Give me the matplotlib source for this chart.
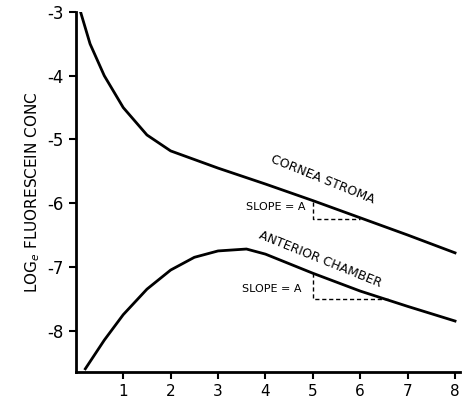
# Courbes de concentration de fluorescéine (cornée / chambre antérieure)
import matplotlib.pyplot as plt

# valeurs
cornee_x = [0.1, 0.3, 0.6, 1.0, 1.5, 2.0, 3.0, 4.0, 5.0, 6.0, 7.0, 8.0]
cornee_y = [-3.0, -3.5, -4.0, -4.5, -4.93, -5.18, -5.45, -5.7, -5.96, -6.23, -6.5, -6.78]

chambre_x = [0.2, 0.6, 1.0, 1.5, 2.0, 2.5, 3.0, 3.6, 4.0, 5.0, 6.0, 7.0, 8.0]
chambre_y = [-8.6, -8.15, -7.75, -7.35, -7.05, -6.85, -6.75, -6.72, -6.8, -7.1, -7.38, -7.62, -7.85]

xticks = [1, 2, 3, 4, 5, 6, 7, 8]
yticks = [-3, -4, -5, -6, -7, -8]

fig = plt.figure(figsize=(4.74, 4.0), dpi=100)
ax = fig.add_axes([0.16, 0.07, 0.81, 0.90])

ax.plot(cornee_x, cornee_y, color="black", lw=2)
ax.plot(chambre_x, chambre_y, color="black", lw=2)

# triangles de pente en pointillés
ax.plot([5.0, 5.0, 6.0], [-5.98, -6.25, -6.25], color="black", lw=1, ls=(0, (3, 2)))
ax.plot([5.0, 5.0, 6.6], [-7.1, -7.5, -7.5], color="black", lw=1, ls=(0, (3, 2)))

ax.text(3.6, -6.1, "SLOPE = A", fontsize=8)
ax.text(3.5, -7.4, "SLOPE = A", fontsize=8)
ax.text(4.1, -5.35, "CORNEA STROMA", fontsize=9, rotation=-22,
        rotation_mode="anchor", ha="left", va="baseline")
ax.text(3.85, -6.55, "ANTERIOR CHAMBER", fontsize=9, rotation=-22,
        rotation_mode="anchor", ha="left", va="baseline")

ax.set_xlim(0, 8.1)
ax.set_ylim(-8.65, -3)
ax.set_xticks(xticks)
ax.set_yticks(yticks)
ax.set_yticklabels([str(v) for v in yticks], fontsize=12)
ax.set_xticklabels([str(v) for v in xticks], fontsize=11)
ax.set_ylabel("LOG$_e$ FLUORESCEIN CONC", fontsize=11)
ax.spines["top"].set_visible(False)
ax.spines["right"].set_visible(False)
ax.spines["left"].set_linewidth(2)
ax.spines["bottom"].set_linewidth(2)
ax.tick_params(width=1.5, length=5)

plt.savefig("out.png")
